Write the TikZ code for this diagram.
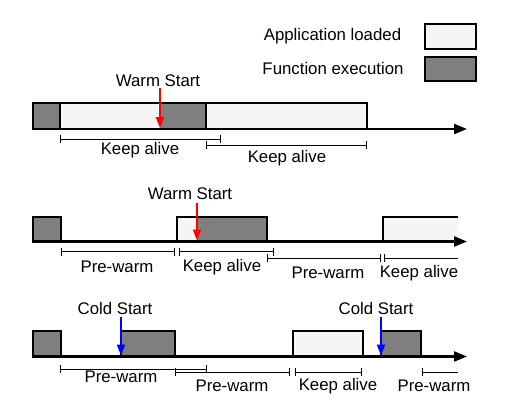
\documentclass[tikz,border=0pt]{standalone}
\usepackage{fontspec}
\setmainfont{Liberation Sans}
\usetikzlibrary{arrows.meta}
\definecolor{applight}{HTML}{F5F5F5}
\definecolor{exedark}{HTML}{7F7F7F}
\begin{document}
\begin{tikzpicture}[x=1pt,y=-1pt,
  font=\fontsize{16.8}{18}\selectfont,
  box/.style={draw=black,line width=2.3pt,inner sep=0pt,outer sep=0pt},
  appbox/.style={box,fill=applight},
  exebox/.style={box,fill=exedark},
  exefill/.style={fill=exedark,draw=none,inner sep=0pt,outer sep=0pt},
  appfill/.style={fill=applight,draw=none,inner sep=0pt,outer sep=0pt},
  axis/.style={line width=2.2pt,-{Triangle[length=13pt,width=10pt]}},
  span/.style={line width=0.9pt,{Bar[width=8pt]}-{Bar[width=8pt]}},
  openspan/.style={line width=0.9pt,{Bar[width=8pt]}-},
  warm/.style={red,line width=2pt,-{Triangle[length=11pt,width=8pt]}},
  cold/.style={blue,line width=2pt,-{Triangle[length=11pt,width=8pt]}},
  lbl/.style={inner sep=0pt}]
\useasboundingbox (0,0) rectangle (516,405);
% legend
\node[appbox,minimum width=51pt,minimum height=25pt] (legapp) at (450.5,36.5) {};
\node[exebox,minimum width=51pt,minimum height=24pt] (legexe) at (450.5,69) {};
\node[lbl] (legapptxt) at (332.5,36) {Application loaded};
\node[lbl] (legexetxt) at (333,68) {Function execution};
% row 1
\node[exebox,minimum width=27pt,minimum height=26pt] (a1) at (46.5,116) {};
\node[appbox,minimum width=146pt,minimum height=26pt] (b1) at (133,116) {};
\node[exefill,minimum width=45pt,minimum height=23.7pt] (c1) at (182.5,116) {};
\node[appbox,minimum width=161pt,minimum height=26pt] (d1) at (286.5,116) {};
\coordinate (ax1s) at (33,129);
\coordinate (ax1e) at (467,129);
\draw[axis] (ax1s) -- (ax1e);
\node[lbl] (ws1) at (158,80.5) {Warm Start};
\coordinate (ws1a) at (160,88);
\coordinate (ws1b) at (160,128);
\draw[warm] (ws1a) -- (ws1b);
\coordinate (k1s) at (60,139);
\coordinate (k1e) at (221,139);
\draw[span] (k1s) -- (k1e);
\node[lbl] (k1l) at (140,150.5) {Keep alive};
\coordinate (k2s) at (206,145);
\coordinate (k2e) at (367,145);
\draw[span] (k2s) -- (k2e);
\node[lbl] (k2l) at (287,158.5) {Keep alive};
% row 2
\node[exebox,minimum width=28pt,minimum height=24.5pt] (a2) at (47,229.25) {};
\node[appbox,minimum width=90pt,minimum height=24.5pt] (b2) at (222,229.25) {};
\node[exefill,minimum width=69pt,minimum height=22.2pt] (c2) at (231.5,229.25) {};
\draw[line width=2.3pt] (b2.north west) rectangle (b2.south east);
\node[appfill,minimum width=75pt,minimum height=24.5pt] (d2) at (420.5,229.25) {};
\draw[line width=2.3pt] (d2.north east) -- (d2.north west) -- (d2.south west);
\coordinate (ax2s) at (33,241.5);
\coordinate (ax2e) at (467,241.5);
\draw[axis] (ax2s) -- (ax2e);
\node[lbl] (ws2) at (190,194) {Warm Start};
\coordinate (ws2a) at (197,202.5);
\coordinate (ws2b) at (197,240.5);
\draw[warm] (ws2a) -- (ws2b);
\coordinate (p1s) at (61,251.5);
\coordinate (p1e) at (175,251.5);
\draw[span] (p1s) -- (p1e);
\node[lbl] (p1l) at (117,267) {Pre-warm};
\coordinate (k3s) at (179,251.5);
\coordinate (k3e) at (274,251.5);
\draw[span] (k3s) -- (k3e);
\node[lbl] (k3l) at (222,267) {Keep alive};
\coordinate (p2s) at (267,258);
\coordinate (p2e) at (380.5,258);
\draw[span] (p2s) -- (p2e);
\node[lbl] (p2l) at (328,273) {Pre-warm};
\coordinate (k4s) at (384,258);
\coordinate (k4e) at (458,258);
\draw[openspan] (k4s) -- (k4e);
\node[lbl] (k4l) at (419,273) {Keep alive};
% row 3
\node[exebox,minimum width=28pt,minimum height=25.5pt] (a3) at (47,343.75) {};
\node[exebox,minimum width=54pt,minimum height=25.5pt] (b3) at (148,343.75) {};
\node[appbox,minimum width=70pt,minimum height=25.5pt] (c3) at (328,343.75) {};
\node[exebox,minimum width=40pt,minimum height=25.5pt] (d3) at (401,343.75) {};
\coordinate (ax3s) at (33,356.5);
\coordinate (ax3e) at (467,356.5);
\draw[axis] (ax3s) -- (ax3e);
\node[lbl] (cs1) at (115,308) {Cold Start};
\coordinate (cs1a) at (121,317);
\coordinate (cs1b) at (121,355.5);
\draw[cold] (cs1a) -- (cs1b);
\node[lbl] (cs2) at (376,308) {Cold Start};
\coordinate (cs2a) at (381,317);
\coordinate (cs2b) at (381,355.5);
\draw[cold] (cs2a) -- (cs2b);
\coordinate (p3s) at (60,369);
\coordinate (p3e) at (207,369);
\draw[span] (p3s) -- (p3e);
\node[lbl] (p3l) at (121,377) {Pre-warm};
\coordinate (p4s) at (175,372);
\coordinate (p4e) at (290,372);
\draw[span] (p4s) -- (p4e);
\node[lbl] (p4l) at (232,386) {Pre-warm};
\coordinate (k5s) at (295,372);
\coordinate (k5e) at (362,372);
\draw[span] (k5s) -- (k5e);
\node[lbl] (k5l) at (338,386) {Keep alive};
\coordinate (p5s) at (421.5,372);
\coordinate (p5e) at (458,372);
\draw[openspan] (p5s) -- (p5e);
\node[lbl] (p5l) at (434,386) {Pre-warm};
\end{tikzpicture}
\end{document}
